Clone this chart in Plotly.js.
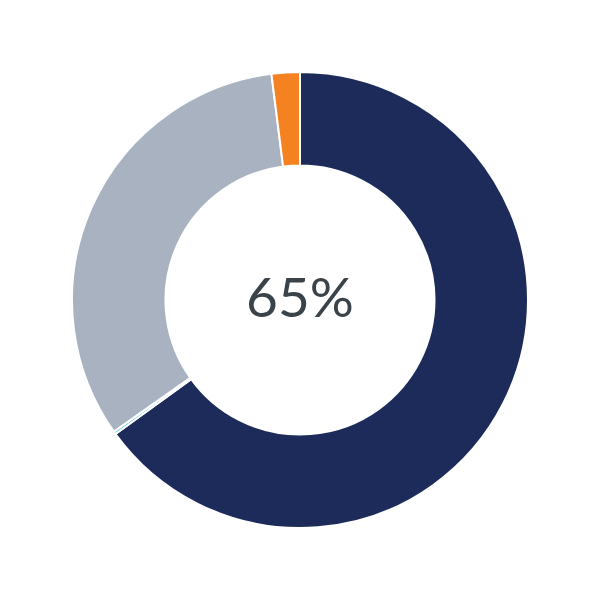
<!DOCTYPE html>
<html><head><meta charset="utf-8">
<script src="https://cdn.plot.ly/plotly-3.0.1.min.js"></script>
<style>html,body{margin:0;padding:0;background:#fff}#chart{width:600px;height:600px}</style>
</head><body><div id="chart"></div>
<script>
const labels = ["Segment A", "Segment B", "Segment C", "Segment D"];
const values = [65, 0.2, 32.8, 2];
const colors = ["#1c2b5a", "#4fc3d8", "#a8b2c1", "#f58220"];
const centerText = "65%";

Plotly.newPlot("chart", [{
  type: "pie",
  labels: labels,
  values: values,
  hole: 0.59,
  sort: false,
  direction: "clockwise",
  rotation: 0,
  textinfo: "none",
  hoverinfo: "label+percent",
  marker: {colors: colors, line: {color: "#ffffff", width: 2}},
  domain: {x: [0.12, 0.88], y: [0.12, 0.88]}
}], {
  width: 600, height: 600,
  margin: {l: 0, r: 0, t: 0, b: 0},
  showlegend: false,
  paper_bgcolor: "#ffffff",
  annotations: [{
    text: centerText, x: 0.5, y: 0.5, xref: "paper", yref: "paper",
    showarrow: false, yshift: 4, font: {family: "Lato", size: 55, color: "#3a4349"}
  }]
}, {displayModeBar: false, staticPlot: true});
</script></body></html>
